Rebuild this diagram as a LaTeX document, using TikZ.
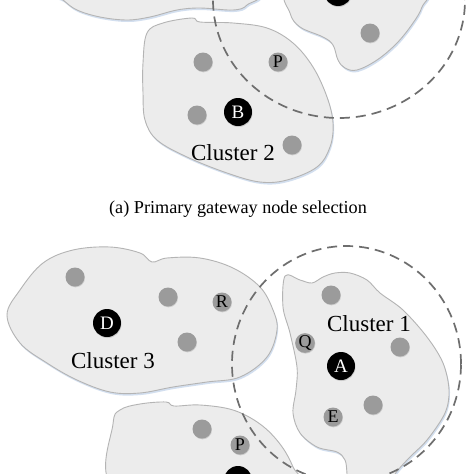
\documentclass[tikz,border=0pt]{standalone}
\usepackage{fontspec}
\setmainfont{Liberation Serif}
\usetikzlibrary{shadows}
\definecolor{blobfill}{RGB}{236,236,236}
\definecolor{blobline}{RGB}{180,180,180}
\definecolor{dotgray}{RGB}{155,155,155}
\definecolor{dashgray}{RGB}{110,110,110}
\definecolor{glow}{RGB}{200,216,236}
\begin{document}
\begin{tikzpicture}[x=1pt,y=-1pt,
  blob/.style={fill=blobfill, draw=blobline, line width=0.9pt,
    drop shadow={shadow xshift=1pt, shadow yshift=-2pt, fill=glow, opacity=0.8}},
  gdot/.style={circle, fill=dotgray, minimum size=19pt, inner sep=0pt, text=black,
    font=\fontsize{18}{18}\selectfont,
    drop shadow={shadow xshift=0.5pt, shadow yshift=-0.8pt, fill=black!50, opacity=0.3}},
  hnode/.style={circle, fill=black, minimum size=28pt, inner sep=0pt, text=white,
    font=\fontsize{19}{19}\selectfont,
    drop shadow={shadow xshift=0.5pt, shadow yshift=-1pt, fill=black!50, opacity=0.3}},
  rangeline/.style={draw=dashgray, dash pattern=on 10pt off 6pt, line width=1.7pt},
  clabel/.style={font=\fontsize{23}{23}\selectfont, anchor=base, inner sep=0pt},
  caption/.style={font=\fontsize{18.2}{18.2}\selectfont, anchor=base, inner sep=0pt}]
\useasboundingbox (0,0) rectangle (474,474);
\clip (0,0) rectangle (474,474);
\fill[white] (0,0) rectangle (474,474);

% ---------- (a) lower part ----------
% cluster 3 (cut)
\draw[blob] plot[smooth cycle, tension=0.6] coordinates {
 (45,-15) (63,0) (77,10) (100,17) (127,20) (150,17) (177,10) (200,8) (233,10) (247,5) (255,-12) (150,-60)};
% cluster 1 (cut)
\draw[blob] plot[smooth cycle, tension=0.6] coordinates {
 (289,-12) (290,13) (300,27) (323,37) (333,45) (338,60) (345,68) (357,70) (377,60) (397,43) (413,23) (422,7) (425,-12) (360,-40)};
% cluster 2
\draw[blob] plot[smooth cycle, tension=0.6] coordinates {
 (147,33) (163,23) (192,18) (200,22) (233,23) (267,28) (293,43) (313,67) (327,97) (333,123) (330,147) (317,167) (287,180) (260,182) (227,173) (187,157) (157,140) (145,120) (143,93) (143,63)};

% ---------- (b) upper part ----------
% cluster 3
\draw[blob] plot[smooth cycle, tension=0.6] coordinates {
 (7,315) (20,290) (43,263) (73,250) (110,247) (140,253) (152,262) (167,258) (200,258) (233,268) (260,287) (273,310) (277,330) (267,357) (240,377) (207,382) (173,387) (140,393) (110,392) (77,380) (47,363) (20,343)};
% cluster 1
\draw[blob] plot[smooth cycle, tension=0.55] coordinates {
 (285,276) (300,280) (312,283) (323,277) (335,273) (350,273) (367,280) (380,293) (403,310) (427,337) (443,363) (449,390) (445,413) (427,440) (407,460) (393,478) (392,500) (348,500) (347,474) (345,460) (337,452) (317,447) (300,433) (293,413) (296,390) (297,367) (290,333) (283,307)};
% cluster 2 (cut)
\draw[blob] plot[smooth cycle, tension=0.6] coordinates {
 (112,485) (113,424) (120,410) (140,404) (166,402) (174,406) (200,405) (233,410) (260,424) (280,444) (293,467) (300,492) (200,505)};

% ---------- transmission ranges ----------
\coordinate (rangeA) at (339,0);
\coordinate (rangeB) at (346.5,364);
\draw[rangeline] (rangeA) ellipse [x radius=126pt, y radius=118pt];
\draw[rangeline] (rangeB) ellipse [x radius=114.5pt, y radius=118pt];

% ---------- nodes of (a) ----------
\node[hnode] (aA) at (338,-8) {};
\node[gdot] (a1g1) at (370,33) {};
\node[gdot] (a2g1) at (203,62) {};
\node[gdot] (aP) at (278,62) {P};
\node[gdot] (a2g2) at (197,115) {};
\node[hnode] (aB) at (238,112) {B};
\node[gdot] (a2g3) at (292,145) {};
\node[clabel] (aC2) at (233,160) {Cluster 2};
\node[caption] (capA) at (238,213) {(a) Primary gateway node selection};

% ---------- nodes of (b) ----------
\node[gdot] (b3g1) at (75,277) {};
\node[gdot] (b3g2) at (168,297) {};
\node[gdot] (bR) at (222,302) {R};
\node[hnode] (bD) at (107,323) {D};
\node[gdot] (b3g3) at (187,342) {};
\node[clabel] (bC3) at (113,368) {Cluster 3};

\node[gdot] (b1g1) at (331,295) {};
\node[gdot] (bQ) at (305,343) {Q};
\node[hnode] (bA) at (341,366) {A};
\node[gdot] (b1g2) at (400,347) {};
\node[gdot] (b1g3) at (373,405) {};
\node[gdot] (bE) at (333,417) {E};
\node[clabel] (bC1) at (369,331) {Cluster 1};

\node[gdot] (b2g1) at (202,429) {};
\node[gdot] (bP) at (240,445) {P};
\node[hnode] (bB) at (238,480) {};
\end{tikzpicture}
\end{document}
